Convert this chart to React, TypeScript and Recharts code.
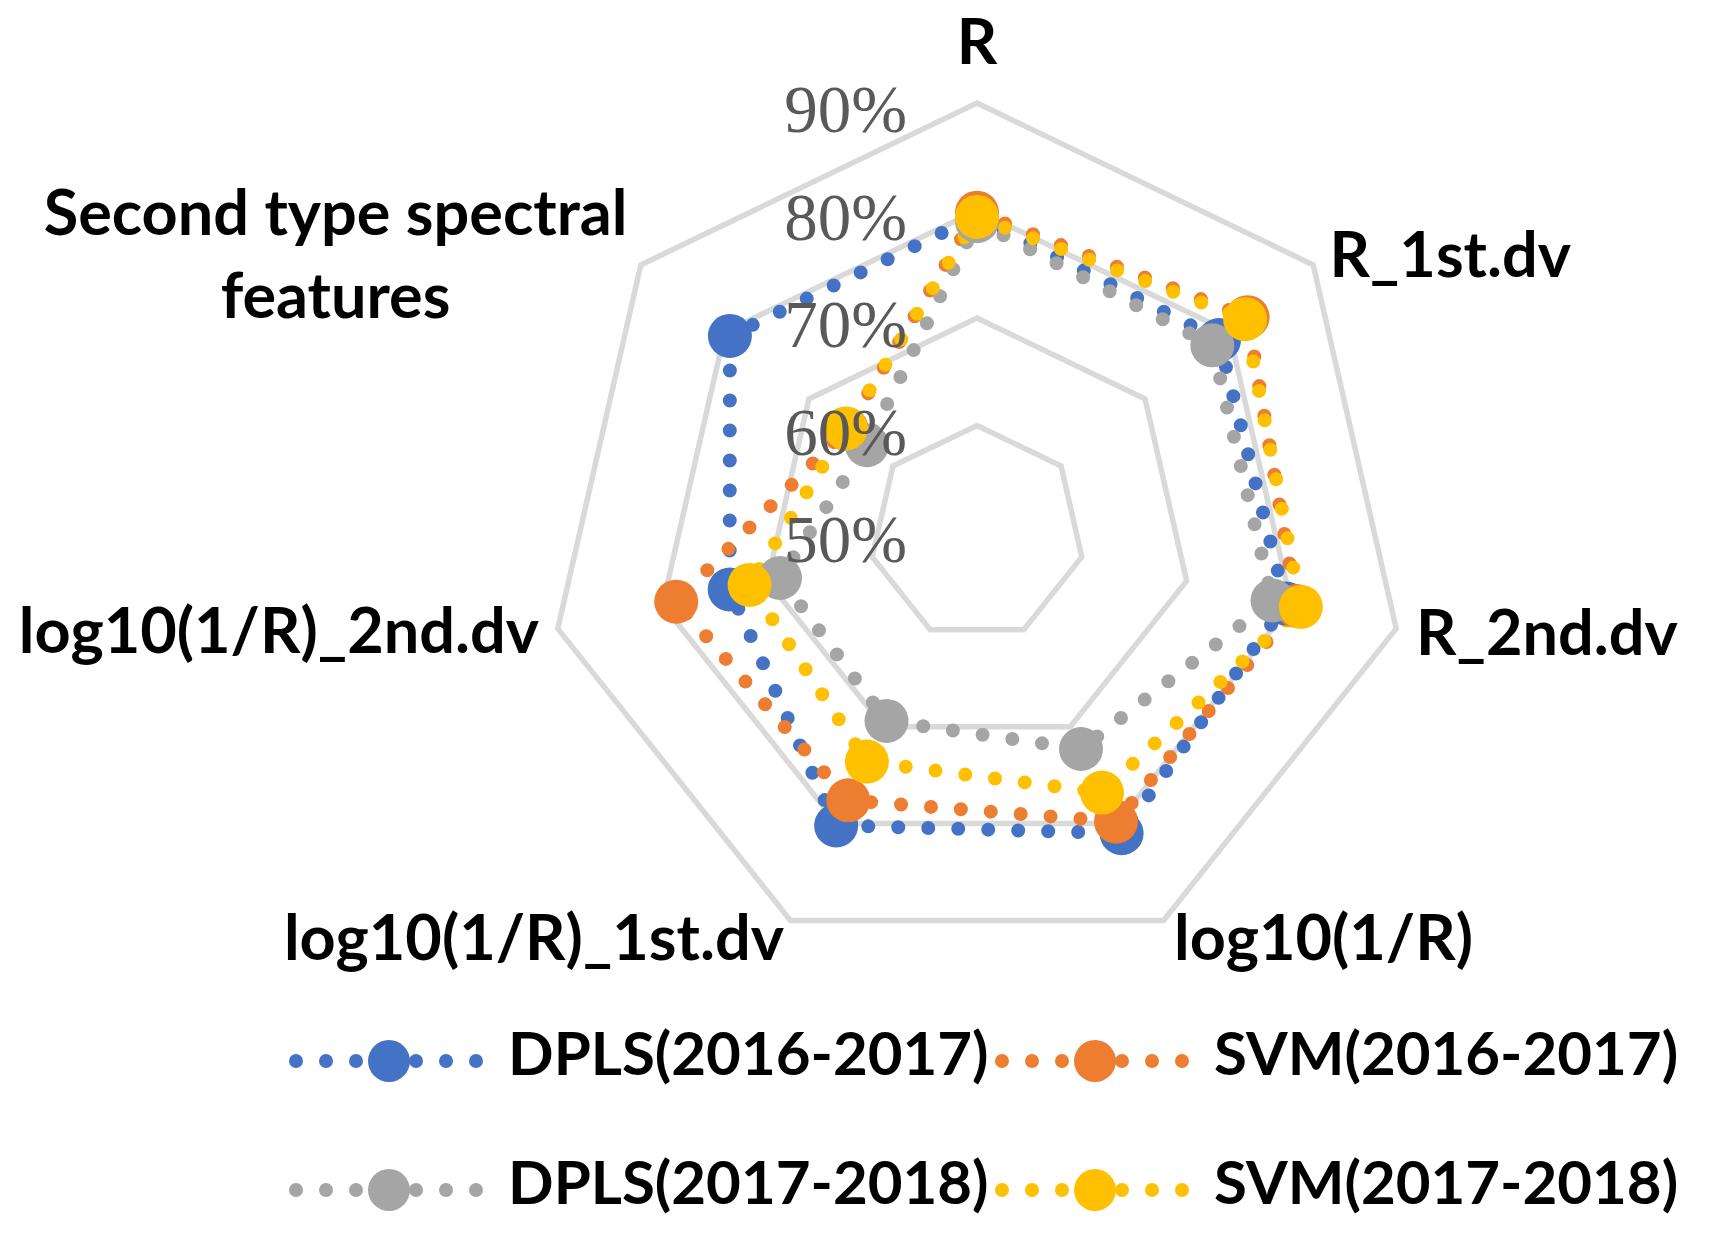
import React from 'react';
import {
  RadarChart,
  Radar,
  PolarGrid,
  PolarAngleAxis,
  PolarRadiusAxis,
  Legend,
} from 'recharts';

// categories, clockwise from the top
const features = [
  'R',
  'R_1st.dv',
  'R_2nd.dv',
  'log10(1/R)',
  'log10(1/R)_1st.dv',
  'log10(1/R)_2nd.dv',
  'Second type spectral features',
];

// accuracy (%) per feature
const dpls1617 = [79.5, 78.8, 79.5, 81.0, 80.2, 73.6, 79.4];
const svm1617 = [79.8, 82.2, 80.5, 79.8, 77.6, 78.7, 65.5];
const dpls1718 = [79.0, 78.0, 78.2, 72.3, 69.4, 68.8, 63.1];
const svm1718 = [79.4, 81.9, 80.9, 76.8, 73.6, 71.7, 65.6];

const radiusDomain = [50, 90];
const radiusTickCount = 5;

const series = [
  { key: 'dpls1617', name: 'DPLS(2016-2017)', color: '#4472C4', values: dpls1617 },
  { key: 'svm1617', name: 'SVM(2016-2017)', color: '#ED7D31', values: svm1617 },
  { key: 'dpls1718', name: 'DPLS(2017-2018)', color: '#A5A5A5', values: dpls1718 },
  { key: 'svm1718', name: 'SVM(2017-2018)', color: '#FFC000', values: svm1718 },
];

const data = features.map((feature, i) => {
  const row: Record<string, string | number> = { feature };
  series.forEach((s) => {
    row[s.key] = s.values[i];
  });
  return row;
});

const LABEL_FONT = 'Lato, "Open Sans", sans-serif';

// label placement relative to the angle-axis tick point
const labelLayout = [
  { dx: 0, dy: -31, anchor: 'middle', lines: ['R'] },
  { dx: 10, dy: 17, anchor: 'start', lines: ['R_1st.dv'] },
  { dx: 12, dy: 25, anchor: 'start', lines: ['R_2nd.dv'] },
  { dx: 7, dy: 32, anchor: 'start', lines: ['log10(1/R)'] },
  { dx: -3, dy: 32, anchor: 'end', lines: ['log10(1/R)_1st.dv'] },
  { dx: -11, dy: 23, anchor: 'end', lines: ['log10(1/R)_2nd.dv'] },
  { dx: -299, dy: -25, anchor: 'middle', lines: ['Second type spectral', 'features'] },
];

const AngleTick = (props: any) => {
  const { x, y, index } = props;
  const l = labelLayout[index];
  return (
    <text
      x={x + l.dx}
      y={y + l.dy}
      textAnchor={l.anchor}
      fontFamily={LABEL_FONT}
      fontWeight={700}
      fontSize={63}
      fill="#000"
    >
      {l.lines.map((line, k) => (
        <tspan key={k} x={x + l.dx} dy={k === 0 ? 0 : 83}>
          {line}
        </tspan>
      ))}
    </text>
  );
};

const RadiusTick = (props: any) => {
  const { x, y, payload } = props;
  return (
    <text
      x={x - 70}
      y={y + 6}
      textAnchor="end"
      dominantBaseline="central"
      fontFamily='"Liberation Serif", "Times New Roman", serif'
      fontSize={67}
      fill="#595959"
    >
      {payload.value}%
    </text>
  );
};

// legend follows the series order (2 columns x 2 rows)
const renderLegend = () => (
  <svg width={1725} height={235} style={{ display: 'block' }}>
    {series.map((s, i) => {
      const col = i % 2;
      const row = Math.floor(i / 2);
      const x0 = col === 0 ? 296 : 1002;
      const y = row === 0 ? 61 : 190;
      return (
        <g key={s.key}>
          <line
            x1={x0}
            x2={x0 + 182}
            y1={y}
            y2={y}
            stroke={s.color}
            strokeWidth={14}
            strokeDasharray="0 30"
            strokeLinecap="round"
          />
          <circle cx={x0 + 93} cy={y} r={21} fill={s.color} />
          <text
            x={x0 + 212}
            y={y + 14}
            fontFamily={LABEL_FONT}
            fontWeight={700}
            fontSize={60}
            fill="#000"
          >
            {s.name}
          </text>
        </g>
      );
    })}
  </svg>
);

export default function App() {
  return (
    <div style={{ width: 1725, height: 1235, background: '#fff', position: 'relative' }}>
      <style>{'body { margin: 0; }'}</style>
      <RadarChart
        width={1725}
        height={1235}
        data={data}
        cx={977}
        cy={533}
        outerRadius={430}
        margin={{ top: 0, right: 0, bottom: 0, left: 0 }}
      >
        <PolarGrid gridType="polygon" radialLines={false} stroke="#D9D9D9" strokeWidth={5.5} />
        <PolarAngleAxis
          dataKey="feature"
          tick={<AngleTick />}
          tickLine={false}
          axisLine={false}
          tickSize={8}
        />
        {series.map((s) => (
          <Radar
            key={s.key}
            dataKey={s.key}
            name={s.name}
            stroke={s.color}
            strokeWidth={14}
            strokeDasharray="0 30"
            strokeLinecap="round"
            fill="none"
            fillOpacity={0}
            dot={(p: any) => (
              <circle key={`${s.key}-${p.index}`} cx={p.cx} cy={p.cy} r={22} fill={s.color} />
            )}
            isAnimationActive={false}
          />
        ))}
        <PolarRadiusAxis
          angle={90}
          domain={radiusDomain}
          tickCount={radiusTickCount}
          axisLine={false}
          tickLine={false}
          tick={<RadiusTick />}
          zIndex={1000}
        />
        <Legend
          content={renderLegend}
          wrapperStyle={{ position: 'absolute', left: 0, top: 1000, width: 1725, height: 235 }}
        />
      </RadarChart>
    </div>
  );
}
